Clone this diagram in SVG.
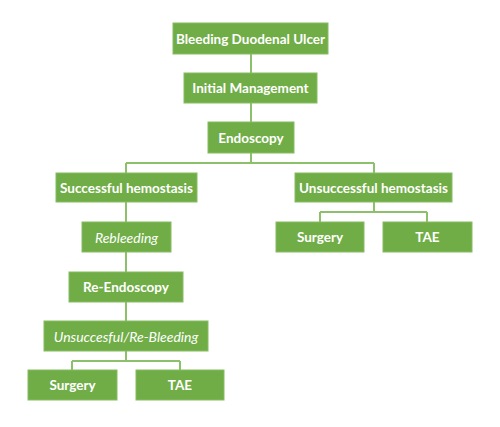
<svg xmlns="http://www.w3.org/2000/svg" width="500" height="427" viewBox="0 0 500 427">
<style>
.b{fill:#70AD47;stroke:#86BC62;stroke-width:1}
.t{fill:#fff;font-family:Lato,"Open Sans",sans-serif;font-size:13.5px;font-weight:bold;text-anchor:middle;dominant-baseline:central}
.i{font-style:italic;font-weight:normal;font-size:14px}
.c{fill:none;stroke:#8CC06B;stroke-width:2}
</style>
<rect width="500" height="427" fill="#fff"/>
<g id="connectors">
<path class="c" d="M251,54V73M251,103V122M251,153V163M126,163H374M126,163V173M374,163V173M374,202V212M320,212H427M320,212V222M427,212V222M126,202V222M126,252V272M126,302V321M126,351V361M72,361H180M72,361V370M180,361V370"/>
</g>
<g id="n1"><rect class="b" x="173" y="23" width="155" height="31"/><text class="t" x="250.5" y="39">Bleeding Duodenal Ulcer</text></g>
<g id="n2"><rect class="b" x="184" y="73" width="133" height="30"/><text class="t" x="250.5" y="88">Initial Management</text></g>
<g id="n3"><rect class="b" x="208" y="122" width="86" height="31"/><text class="t" x="251" y="138">Endoscopy</text></g>
<g id="n4"><rect class="b" x="56" y="173" width="141" height="29"/><text class="t" x="126.5" y="188">Successful hemostasis</text></g>
<g id="n5"><rect class="b" x="295" y="173" width="157" height="29"/><text class="t" x="373.5" y="188">Unsuccessful hemostasis</text></g>
<g id="n6"><rect class="b" x="276" y="222" width="88" height="30"/><text class="t" x="320" y="237">Surgery</text></g>
<g id="n7"><rect class="b" x="383" y="222" width="89" height="30"/><text class="t" x="427.5" y="237">TAE</text></g>
<g id="n8"><rect class="b" x="82" y="222" width="89" height="30"/><text class="t i" x="126.5" y="237">Rebleeding</text></g>
<g id="n9"><rect class="b" x="69" y="272" width="114" height="30"/><text class="t" x="126" y="287">Re-Endoscopy</text></g>
<g id="n10"><rect class="b" x="44" y="321" width="164" height="30"/><text class="t i" x="126" y="336">Unsuccesful/Re-Bleeding</text></g>
<g id="n11"><rect class="b" x="28" y="370" width="89" height="30"/><text class="t" x="72.5" y="385">Surgery</text></g>
<g id="n12"><rect class="b" x="136" y="370" width="88" height="30"/><text class="t" x="180" y="385">TAE</text></g>
</svg>
